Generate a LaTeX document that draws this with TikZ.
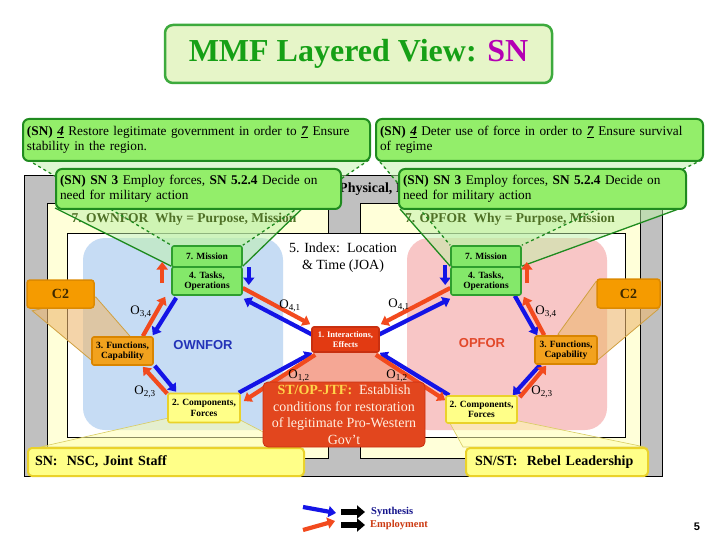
\documentclass[tikz,border=0pt]{standalone}
\usepackage{fontspec}
\setmainfont{Liberation Serif}
\newfontfamily\sansfam{Liberation Sans}
\usetikzlibrary{arrows.meta,calc}
\definecolor{GrayBg}{HTML}{C0C0C0}
\definecolor{PanelYel}{HTML}{FFFFD9}
\definecolor{BlueZone}{HTML}{C6DCF4}
\definecolor{PinkZone}{HTML}{F8C6C6}
\definecolor{CallFill}{HTML}{93EE6A}
\definecolor{CallLine}{HTML}{1F8B1F}
\definecolor{WedgeG}{HTML}{BFF2A8}
\definecolor{NodeG}{HTML}{84E86A}
\definecolor{NodeGLine}{HTML}{2E9E2E}
\definecolor{FncFill}{HTML}{F2A21E}
\definecolor{FncLine}{HTML}{D98500}
\definecolor{CmpFill}{HTML}{FFFF88}
\definecolor{CmpLine}{HTML}{EAD22A}
\definecolor{C2Fill}{HTML}{F59B00}
\definecolor{C2Line}{HTML}{DD8A00}
\definecolor{C2Txt}{HTML}{3C2800}
\definecolor{C2Wedge}{HTML}{EDB870}
\definecolor{C2Edge}{HTML}{D0A040}
\definecolor{SnWedge}{HTML}{FFFFB0}
\definecolor{SnEdge}{HTML}{D8CC60}
\definecolor{RedBox}{HTML}{E2461E}
\definecolor{RedWedge}{HTML}{F28A72}
\definecolor{InterFill}{HTML}{E23A12}
\definecolor{InterLine}{HTML}{C83010}
\definecolor{SynBlue}{HTML}{1414E6}
\definecolor{EmpRed}{HTML}{F24A1E}
\definecolor{OliveTxt}{HTML}{4F7026}
\definecolor{TitleFill}{HTML}{E6F5C8}
\definecolor{TitleLine}{HTML}{3DAA3D}
\definecolor{TitleGreen}{HTML}{16A016}
\definecolor{TitleSN}{HTML}{B400B4}
\definecolor{JtfYel}{HTML}{FFD54A}
\definecolor{JtfTxt}{HTML}{FFEFE0}
\definecolor{LegBlue}{HTML}{14148C}
\definecolor{LegRed}{HTML}{CC3A12}
\definecolor{OwnBlue}{HTML}{2333B8}
\definecolor{OpRed}{HTML}{E2482A}
\pgfdeclarelayer{back}
\pgfdeclarelayer{mid}
\pgfsetlayers{back,mid,main}

\begin{document}
\begin{tikzpicture}[x=1pt,y=-1pt,
   callout/.style={rectangle,rounded corners=6pt,draw=CallLine,line width=2pt,fill=CallFill,
               align=left,inner sep=4pt,font=\fontsize{13.3}{15.5}\selectfont,anchor=north west},
   lvl/.style ={rectangle,rounded corners=2pt,line width=1.6pt,align=center,inner sep=1pt,
               font=\fontsize{9.5}{10.5}\selectfont\bfseries},
   grn/.style ={lvl,draw=NodeGLine,fill=NodeG,minimum width=70pt},
   fnc/.style ={lvl,draw=FncLine,fill=FncFill,minimum width=61pt,minimum height=28pt},
   cmp/.style ={lvl,draw=CmpLine,fill=CmpFill,minimum width=72pt,minimum height=29pt},
   ctwo/.style={rectangle,rounded corners=3pt,draw=C2Line,line width=1.5pt,fill=C2Fill,
               font=\fontsize{14}{15}\selectfont\bfseries,text=C2Txt},
   snbox/.style={rectangle,rounded corners=4pt,draw=CmpLine,line width=2pt,fill=CmpFill,
               align=left,inner ysep=0pt,minimum height=28pt,anchor=north west,
               font=\fontsize{14}{15}\selectfont\bfseries},
   olab/.style={inner sep=0pt,font=\fontsize{13}{15}\selectfont},
   why/.style ={font=\fontsize{13.5}{15}\selectfont\bfseries,text=OliveTxt},
   syn/.style ={-{Triangle[length=7.5pt,width=11pt]},line width=4.2pt,SynBlue},
   emp/.style ={-{Triangle[length=7.5pt,width=11pt]},line width=4.2pt,EmpRed},
   blk/.style ={-{Triangle[length=8pt,width=13pt]},line width=5.5pt,black},
   gline/.style={CallLine,line width=1.3pt}]
   \useasboundingbox (0,0) rectangle (720,540);
   % layer nodes
   \node[grn,minimum height=21pt] (misL) at (207,256.5) {7. Mission};
   \node[grn,minimum height=28pt] (tskL) at (207,281) {4. Tasks,\\Operations};
   \node[fnc] (fncL) at (122.5,351) {3. Functions,\\Capability};
   \node[cmp] (cmpL) at (204,408) {2. Components,\\Forces};
   \node[grn,minimum height=21pt] (misR) at (486,256.5) {7. Mission};
   \node[grn,minimum height=28pt] (tskR) at (486,281) {4. Tasks,\\Operations};
   \node[fnc,minimum width=62pt] (fncR) at (566,350) {3. Functions,\\Capability};
   \node[cmp,minimum width=71pt,minimum height=27pt] (cmpR) at (481.5,409.5) {2. Components,\\Forces};
   \node[lvl,draw=InterLine,fill=InterFill,text=white,minimum width=67pt,minimum height=25pt,
         font=\fontsize{8.5}{10}\selectfont\bfseries] (inter) at (345.5,339.5) {1. Interactions,\\Effects};
   \node[ctwo,minimum width=67pt,minimum height=28pt] (ctwoL) at (60.5,294) {C2};
   \node[ctwo,minimum width=63pt,minimum height=29pt] (ctwoR) at (628.5,293.5) {C2};
   \node[snbox,text width=262pt,inner xsep=7pt] (snL) at (27,447) {SN:\ \ NSC, Joint Staff};
   \node[snbox,text width=164pt,inner xsep=9pt] (snR) at (465,447) {SN/ST:\ \ Rebel Leadership};
   \node[rectangle,rounded corners=5pt,fill=RedBox,draw=InterLine,line width=0.8pt,
         minimum width=162pt,minimum height=65pt,align=center,inner sep=1pt,text=JtfTxt,
         font=\fontsize{14}{16.5}\selectfont] (jtf) at (344,414.5)
         {\textcolor{JtfYel}{\textbf{ST/OP-JTF:}}\ \ Establish\\conditions for restoration\\of legitimate Pro-Western\\Gov't};
   % O labels
   \node[olab] (o34L) at (141,312) {O\textsubscript{3,4}};
   \node[olab] (o23L) at (145,392) {O\textsubscript{2,3}};
   \node[olab] (o41L) at (290,306) {O\textsubscript{4,1}};
   \node[olab] (o41R) at (399,305) {O\textsubscript{4,1}};
   \node[olab] (o12L) at (299,376) {O\textsubscript{1,2}};
   \node[olab] (o12R) at (397,376) {O\textsubscript{1,2}};
   \node[olab] (o34R) at (546,312) {O\textsubscript{3,4}};
   \node[olab] (o23R) at (542,392) {O\textsubscript{2,3}};
   % callouts
   \node[callout,text width=339pt,minimum height=42pt] (callL1) at (22,118)
         {\textbf{(SN)} \underline{\textbf{\textit{4}}} Restore legitimate government in order to \underline{\textbf{\textit{7}}} Ensure\\stability in the region.};
   \node[callout,text width=319pt,minimum height=42pt] (callR1) at (375,118)
         {\textbf{(SN)} \underline{\textbf{\textit{4}}} Deter use of force in order to \underline{\textbf{\textit{7}}} Ensure survival\\of regime};
   \node[callout,text width=277pt,minimum height=40pt] (callL2) at (55,168)
         {\textbf{(SN) SN 3} Employ forces, \textbf{SN 5.2.4} Decide on\\need for military action};
   \node[callout,text width=279pt,minimum height=40pt] (callR2) at (398,168)
         {\textbf{(SN) SN 3} Employ forces, \textbf{SN 5.2.4} Decide on\\need for military action};
   \node[rectangle,rounded corners=8pt,draw=TitleLine,line width=2.5pt,fill=TitleFill,
         minimum width=387pt,minimum height=58pt,font=\fontsize{32}{36}\selectfont\bfseries] (title) at (358.5,54)
         {\textcolor{TitleGreen}{MMF Layered View:} \textcolor{TitleSN}{SN}};
   % frame, panels, zones and callout wedges
   \begin{pgfonlayer}{back}
   \fill[white] (0,0) rectangle (720,540);
   \draw[fill=GrayBg,line width=0.8pt] (24,175) rectangle (662,476);
   \draw[fill=PanelYel,line width=0.6pt] (47,203) rectangle (328,458);
   \draw[fill=PanelYel,line width=0.6pt] (360,203) rectangle (640,458);
   \draw[fill=white,line width=0.8pt] (67,233) rectangle (625,437);
   \fill[BlueZone,rounded corners=22pt] (83,238) rectangle (283,430);
   \fill[PinkZone,rounded corners=22pt] (407,238) rectangle (607,430);
   \fill[WedgeG,fill opacity=0.5] ($(callL1.south west)+(6,-2)$) -- (misL.north west) -- (misL.north east) -- ($(callL1.south east)+(-2,-2)$) -- cycle;
   \fill[WedgeG,fill opacity=0.5] ($(callL2.south west)+(0,-2)$) -- (tskL.north west) -- (tskL.north east) -- ($(callL2.north east)+(-2,4)$) -- cycle;
   \fill[WedgeG,fill opacity=0.5] ($(callR1.south west)+(5,0)$) -- (misR.north west) -- (misR.north east) -- ($(callR1.south east)+(-2,-2)$) -- cycle;
   \fill[WedgeG,fill opacity=0.5] ($(callR2.south west)+(2,-1)$) -- (tskR.north west) -- (tskR.north east) -- ($(callR2.south east)+(-3,-3)$) -- cycle;
   \filldraw[fill=C2Wedge,fill opacity=0.6,draw=C2Edge,line width=0.8pt] ($(ctwoL.south west)+(6,2)$) -- ($(fncL.west)+(0,9)$) -- ($(fncL.north)+(7.5,0)$) -- ($(ctwoL.east)+(1,3)$) -- cycle;
   \filldraw[fill=C2Wedge,fill opacity=0.6,draw=C2Edge,line width=0.8pt] ($(ctwoR.north west)+(0,3)$) -- ($(fncR.north)+(-8,-1)$) -- ($(fncR.east)+(0,10)$) -- ($(ctwoR.south east)+(-2,0)$) -- cycle;
   \filldraw[fill=SnWedge,fill opacity=0.55,draw=SnEdge,line width=0.6pt] ($(snL.north west)+(13,0)$) -- ($(cmpL.south west)+(0,-5)$) -- ($(cmpL.south east)+(0,-3)$) -- ($(snL.north east)+(-13,0)$) -- cycle;
   \filldraw[fill=SnWedge,fill opacity=0.55,draw=SnEdge,line width=0.6pt] ($(snR.north west)+(-2,0)$) -- ($(cmpR.south west)+(4,-2)$) -- ($(cmpR.south east)+(0,-3)$) -- ($(snR.north east)+(-4,0)$) -- cycle;
   \fill[RedWedge,fill opacity=0.75] ($(jtf.north west)+(2,8)$) -- ($(inter.south west)+(3,0)$) -- ($(inter.south east)+(-2,0)$) -- ($(jtf.north east)+(0,5)$) -- cycle;
   \node[why] (whyL) at (184,219) {7. OWNFOR\ \ Why = Purpose, Mission};
   \node[why] (whyR) at (510,219) {7. OPFOR\ \ Why = Purpose, Mission};
   \node[font=\fontsize{14}{15}\selectfont\bfseries,anchor=west,inner sep=0pt] (phys) at (339,189) {Physical, I};
   \node[align=center,font=\fontsize{14}{17}\selectfont] (idx) at (343,258) {5. Index:\ \ Location\\\& Time (JOA)};
   \node[font=\sansfam\bfseries\fontsize{13}{15}\selectfont,text=OwnBlue] (own) at (203,345) {OWNFOR};
   \node[font=\sansfam\bfseries\fontsize{13}{15}\selectfont,text=OpRed] (opf) at (482,343) {OPFOR};
   \end{pgfonlayer}
   % wedge edges and arrows
   \begin{pgfonlayer}{mid}
   \draw[gline,dashed] ($(callL1.south west)+(6,-2)$) -- (misL.north west);
   \draw[gline,dashed] ($(callL1.south east)+(-2,-2)$) -- (misL.north east);
   \draw[gline] ($(callL2.south west)+(0,-2)$) -- (tskL.north west);
   \draw[gline] ($(callL2.north east)+(-2,4)$) -- (tskL.north east);
   \draw[gline,dashed] ($(callR1.south west)+(5,0)$) -- (misR.north west);
   \draw[gline,dashed] ($(callR1.south east)+(-2,-2)$) -- (misR.north east);
   \draw[gline] ($(callR2.south west)+(2,-1)$) -- (tskR.north west);
   \draw[gline] ($(callR2.south east)+(-3,-3)$) -- (tskR.north east);
   % OWNFOR cycle
   \draw[emp] ($(tskL.west)+(-9,2)$) -- ($(tskL.west)+(-9,-19)$);
   \draw[syn] ($(tskL.east)+(6,-14)$) -- ($(tskL.east)+(6,4)$);
   \draw[emp] ($(fncL.north east)+(-11,0)$) -- ($(tskL.south west)+(-6,1)$);
   \draw[syn] ($(tskL.south west)+(5,2)$) -- ($(fncL.north east)+(-1,-1)$);
   \draw[emp] ($(cmpL.north west)+(0,1)$) -- ($(fncL.south east)+(-11,1)$);
   \draw[syn] ($(fncL.south east)+(1,0)$) -- ($(cmpL.north west)+(9,-1)$);
   \draw[syn] ($(cmpL.north east)+(-2,0)$) -- ($(inter.south west)+(1,0)$);
   \draw[emp] ($(inter.south west)+(4,2)$) -- ($(cmpL.east)+(3,-7)$);
   \draw[emp] ($(tskL.east)+(0,7)$) -- ($(inter.north west)+(-1,-2)$);
   \draw[syn] ($(inter.north west)+(2,9)$) -- ($(tskL.south east)+(1,3)$);
   % OPFOR cycle
   \draw[syn] ($(tskR.west)+(-5,-16)$) -- ($(tskR.west)+(-5,4)$);
   \draw[emp] ($(tskR.east)+(5,2)$) -- ($(tskR.east)+(5,-19)$);
   \draw[syn] ($(tskR.south east)+(-7,0)$) -- ($(fncR.north west)+(3,0)$);
   \draw[emp] ($(fncR.north west)+(10,0)$) -- ($(tskR.south east)+(2,1)$);
   \draw[syn] ($(fncR.south west)+(6,0)$) -- ($(cmpR.north east)+(-5,0)$);
   \draw[emp] ($(cmpR.north east)+(2,2)$) -- ($(fncR.south west)+(12,1)$);
   \draw[emp] ($(tskR.west)+(0,7)$) -- ($(inter.north east)+(1,-2)$);
   \draw[syn] ($(inter.north east)+(-2,9)$) -- ($(tskR.south west)+(0,3)$);
   \draw[syn] ($(cmpR.north west)+(4,0)$) -- (inter.south east);
   \draw[emp] ($(inter.south east)+(-4,2)$) -- ($(cmpR.north west)+(0,5)$);
   \end{pgfonlayer}
   % legend
   \node[anchor=west,inner sep=0pt,font=\fontsize{10.5}{11}\selectfont\bfseries,text=LegBlue] (synlab) at (371,512) {Synthesis};
   \node[anchor=west,inner sep=0pt,font=\fontsize{10.5}{11}\selectfont\bfseries,text=LegRed] (emplab) at (370,525) {Employment};
   \draw[blk] ($(synlab.west)+(-30,0)$) -- ($(synlab.west)+(-6,0)$);
   \draw[blk] ($(emplab.west)+(-29,0)$) -- ($(emplab.west)+(-5,0)$);
   \draw[syn] ($(synlab.west)+(-68,-5)$) -- ($(synlab.west)+(-35,1)$);
   \draw[emp] ($(emplab.west)+(-67,5)$) -- ($(emplab.west)+(-35,-4)$);
   \node[font=\sansfam\bfseries\fontsize{11}{12}\selectfont] (pgno) at (697,527) {5};
\end{tikzpicture}
\end{document}
